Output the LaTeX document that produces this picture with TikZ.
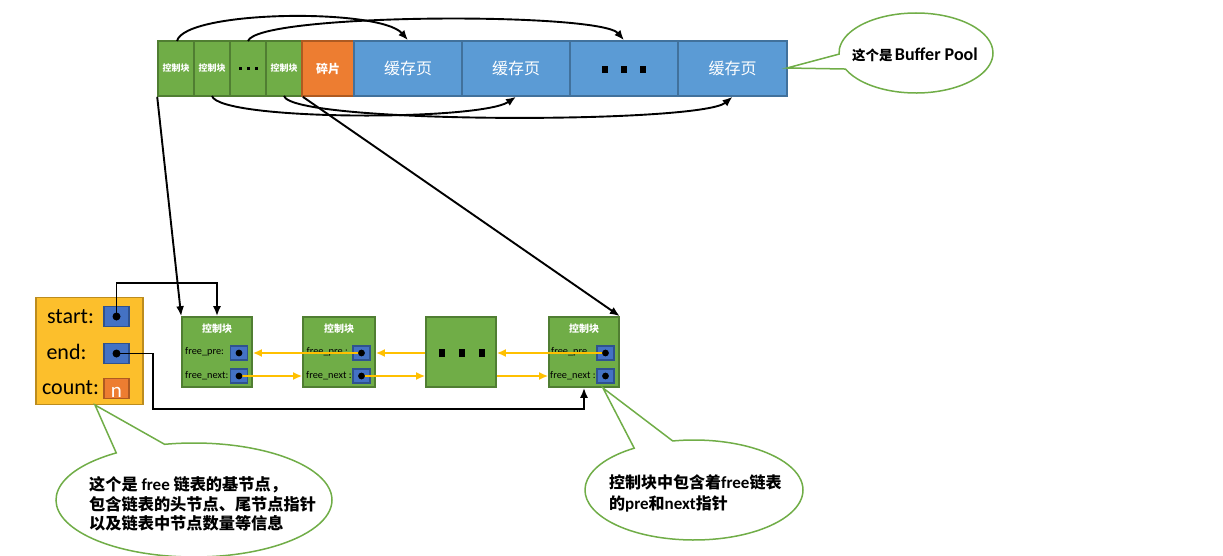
\documentclass[tikz,border=0pt]{standalone}
\usepackage{fontspec}
\setmainfont{Carlito}
\newfontfamily\cjk{Noto Sans CJK SC}
\usetikzlibrary{arrows.meta,shapes.callouts}
\definecolor{gfill}{HTML}{70AD47}
\definecolor{gdraw}{HTML}{507E32}
\definecolor{bfill}{HTML}{5B9BD5}
\definecolor{bdraw}{HTML}{41719C}
\definecolor{ofill}{HTML}{ED7D31}
\definecolor{odraw}{HTML}{AE5A21}
\definecolor{basefill}{HTML}{FCBF2C}
\definecolor{basedraw}{HTML}{BC8C1E}
\definecolor{pfill}{HTML}{4472C4}
\definecolor{pdraw}{HTML}{2F528F}
\definecolor{yarrow}{HTML}{FFC000}
\definecolor{cgreen}{HTML}{70AD47}
\begin{document}
\begin{tikzpicture}[x=1pt,y=-1pt,
  arr/.style={line width=1.9pt,-{Latex[length=10pt,width=8pt]}},
  yarr/.style={draw=yarrow,line width=1.8pt,-{Latex[length=9pt,width=8pt]}},
  gcell/.style={draw=gdraw,fill=gfill,line width=1.6pt,inner sep=0pt,minimum height=55pt,minimum width=36pt,text=white},
  bcell/.style={draw=bdraw,fill=bfill,line width=1.6pt,inner sep=0pt,minimum height=55pt,minimum width=108pt,text=white,font=\cjk\fontsize{16}{18}\selectfont},
  ocell/.style={draw=odraw,fill=ofill,line width=1.6pt,inner sep=0pt,minimum height=55pt,minimum width=52pt,text=white,font=\cjk\bfseries\fontsize{12}{14}\selectfont},
  topctl/.style={font=\cjk\bfseries\fontsize{9}{10}\selectfont},
  blk/.style={draw=gdraw,fill=gfill,line width=1.6pt,inner sep=0pt,minimum height=70pt,minimum width=70pt},
  ptr/.style={draw=pdraw,fill=pfill,line width=1.3pt,inner sep=0pt,minimum width=17pt,minimum height=14pt},
  bptr/.style={draw=pdraw,fill=pfill,line width=1.3pt,inner sep=0pt,minimum width=25pt,minimum height=20pt},
  blbl/.style={anchor=west,inner sep=0pt,font=\fontsize{10.3}{11}\selectfont},
  btitle/.style={text=white,inner sep=0pt,font=\cjk\bfseries\fontsize{10}{11}\selectfont},
  baselbl/.style={anchor=base,inner sep=0pt,font=\fontsize{22}{24}\selectfont},
  callout/.style={ellipse callout,draw=cgreen,fill=white,line width=1.5pt,inner sep=0pt,callout pointer arc=22},
  dot/.style={fill=black}
]
\useasboundingbox (0,0) rectangle (1223,556);

% ---- top buffer pool ----
\node[gcell,topctl] (c1) at (176,68.5) {控制块};
\node[gcell,topctl] (c2) at (212,68.5) {控制块};
\node[gcell] (c3) at (248,68.5) {};
\node[gcell,topctl] (c4) at (284,68.5) {控制块};
\node[ocell] (frag) at (328,68.5) {碎片};
\node[bcell] (p1) at (408,68.5) {缓存页};
\node[bcell] (p2) at (516,68.5) {缓存页};
\node[bcell] (p3) at (624,68.5) {};
\node[bcell,minimum width=109pt] (p4) at (732.5,68.5) {缓存页};
\foreach \xx in {238.5,246.5,254.5} \fill[black] (\xx,67) rectangle +(3,3.5);
\foreach \xx in {602,621,640} \fill[black] (\xx,66) rectangle +(6,7);

% arcs
\draw[arr] (177,41) .. controls (185,10) and (380,8) .. (p1.north);
\draw[arr] (248,41) .. controls (258,13) and (600,12) .. (p3.north);
\draw[arr] (212,96) .. controls (220,121) and (480,121) .. (p2.south);
\draw[arr] (284,96) .. controls (292,124) and (700,124) .. (p4.south);

% ---- lower list ----
\node[blk] (b1) at (217,352) {};
\node[blk,minimum width=72pt] (b2) at (339,352) {};
\node[blk] (bm) at (461,352) {};
\node[blk] (b4) at (584,352) {};

\node[btitle] (t1) at (217,329) {控制块};
\node[btitle] (t2) at (339,329) {控制块};
\node[btitle] (t4) at (584,329) {控制块};
\foreach \xx in {439,459,479} \fill[black] (\xx,349) rectangle +(6,8);

\node[ptr] (b1pre) at (239,353) {};
\node[ptr] (b1nxt) at (239,376) {};
\node[ptr] (b2pre) at (361.5,353) {};
\node[ptr] (b2nxt) at (361.5,376) {};
\node[ptr] (b4pre) at (605.5,353) {};
\node[ptr] (b4nxt) at (605.5,376) {};

\node[blbl] (l1p) at (185,352) {free\_pre:};
\node[blbl] (l1n) at (185,376) {free\_next:};
\node[blbl] (l2p) at (306.5,352) {free\_pre :};
\node[blbl] (l2n) at (306,376) {free\_next :};
\node[blbl] (l4p) at (551,352) {free\_pre};
\node[blbl] (l4n) at (550,376) {free\_next :};

% yellow links
\draw[yarr] (b2pre.center) -- (b1.east |- b1pre.center);
\draw[yarr] (b1nxt.center) -- (b2.west |- b1nxt.center);
\draw[yarr] (bm.west |- b2pre.center) -- (b2.east |- b2pre.center);
\draw[yarr] (b2nxt.center) -- (bm.west |- b2nxt.center);
\draw[yarr] (b4pre.center) -- (bm.east |- b4pre.center);
\draw[yarr] (bm.east |- b4nxt.center) -- (b4.west |- b4nxt.center);

\foreach \n in {b1pre,b1nxt,b2pre,b2nxt,b4pre,b4nxt} \fill[dot] (\n.center) circle (3.4pt);

% ---- base node ----
\node[draw=basedraw,fill=basefill,line width=1.6pt,minimum width=107pt,minimum height=107pt,inner sep=0pt] (base) at (89.5,351) {};
\node[baselbl] (ls) at (70.5,323) {start:};
\node[baselbl] (le) at (66.5,359.5) {end:};
\node[baselbl] (lc) at (70.5,394) {count:};
\node[bptr] (sb) at (116.5,316.5) {};
\node[bptr] (eb) at (116.5,353.5) {};
\node[draw=odraw,fill=ofill,line width=1.3pt,inner sep=0pt,minimum width=25pt,minimum height=20pt] (cb) at (116.5,388.5) {};
\node[anchor=base,text=white,inner sep=0pt,font=\fontsize{21}{22}\selectfont] (nn) at (116.5,397.5) {n};

% pointers
\coordinate (sturn) at (217,283);
\coordinate (eturn) at (153,409);
\draw[arr] (sb.center) |- (sturn) -- (b1.north);
\draw[arr] (eb.center) -| (eturn) -| (b4.south);
\fill[dot] (sb.center) circle (4pt);
\fill[dot] (eb.center) circle (4pt);

% long lines from top
\draw[arr] (c1.south west) -- (b1.north west);
\draw[arr] (c4.south east) -- (b4.north east);

% ---- callouts ----
\node[callout,minimum width=154pt,minimum height=80pt,callout absolute pointer={(787,68)}] (cbp) at (916,53) {};
\node[inner sep=0pt] (tbp) at (915,55) {{\cjk\bfseries\fontsize{13.5}{15}\selectfont 这个是} {\bfseries\fontsize{18}{20}\selectfont Buffer Pool}};

\node[callout,minimum width=276pt,minimum height=114pt,callout absolute pointer={(95,405)}] (cl) at (194,500) {};
\node[anchor=west,align=left,inner sep=0pt,font=\cjk\bfseries\fontsize{16.2}{19.5}\selectfont] (tl) at (89,504) {这个是 {\rmfamily\bfseries\fontsize{17}{19.5}\selectfont free} 链表的基节点，\\包含链表的头节点、尾节点指针\\以及链表中节点数量等信息};

\node[callout,minimum width=218pt,minimum height=100pt,callout absolute pointer={(603,388)}] (cr) at (694,490) {};
\node[anchor=west,align=left,inner sep=0pt,font=\cjk\bfseries\fontsize{16}{21}\selectfont] (tr) at (609,493) {控制块中包含着{\rmfamily\bfseries\fontsize{17}{21}\selectfont free}链表\\的{\rmfamily\bfseries\fontsize{17}{21}\selectfont pre}和{\rmfamily\bfseries\fontsize{17}{21}\selectfont next}指针};
\end{tikzpicture}
\end{document}
